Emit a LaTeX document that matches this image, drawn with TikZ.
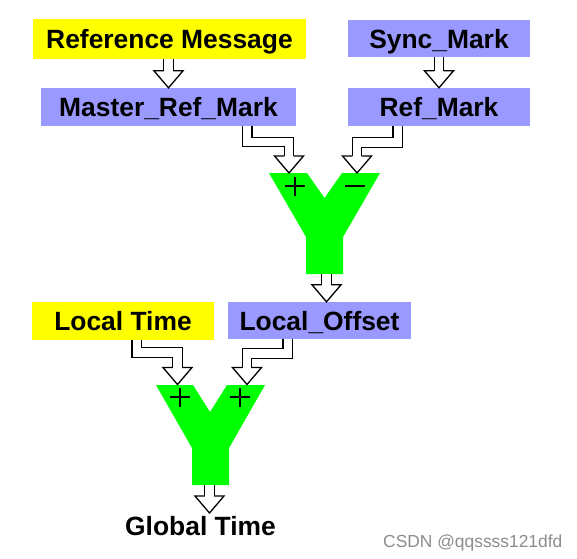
\documentclass[tikz,border=0pt]{standalone}
\usepackage{fontspec}
\setmainfont{Liberation Sans}
\usetikzlibrary{calc}
\definecolor{ylw}{HTML}{FFFF00}
\definecolor{lav}{HTML}{9999FF}
\definecolor{grn}{HTML}{00FF00}
\tikzset{
  box/.style={draw=none, inner sep=0pt, font=\fontsize{26.4}{30}\selectfont\bfseries,
    text height=23pt, text depth=4pt, minimum height=38pt},
  ybox/.style={box, fill=ylw},
  pbox/.style={box, fill=lav},
  lbl/.style={inner sep=0pt, font=\fontsize{26.4}{30}\selectfont\bfseries, text height=23pt, text depth=4pt},
  arrline/.style={line width=1.3pt, line join=miter},
  yshape/.style={fill=grn},
  sign/.style={line width=2.2pt},
}
\newcommand\harrow[2]{%
  \coordinate (hb) at ($(#2)+(0,-17)$);
  \fill[white] ($(hb)+(-14.5,0)$) -- (#2) -- ($(hb)+(14.5,0)$) -- cycle;
  \draw[arrline] ($(hb)+(-4.7,0)$) -- ($(hb)+(-14.5,0)$) -- (#2) -- ($(hb)+(14.5,0)$) -- ($(hb)+(4.7,0)$);
  \draw[line width=10.7pt, line join=miter] #1 -- (hb);
  \draw[line width=8.1pt, white, line join=miter] #1 -- (hb);
}
\begin{document}
\begin{tikzpicture}[x=1pt, y=-1pt]
\useasboundingbox (0,0) rectangle (577,558);

% boxes
\node[ybox, minimum width=273pt, minimum height=40pt] (refmsg) at (169.5,39) {Reference Message};
\node[pbox, minimum width=182pt, minimum height=37pt] (sync) at (439,38.5) {Sync\_Mark};
\node[pbox, minimum width=255pt] (mrm) at (168.5,107) {Master\_Ref\_Mark};
\node[pbox, minimum width=182pt] (refmark) at (439,107) {Ref\_Mark};
\node[ybox, minimum width=182pt] (lt) at (123,321) {Local Time};
\node[pbox, minimum width=183pt, minimum height=37pt] (lo) at (319.5,320.5) {Local\_Offset};
\node[lbl] (gt) at (200.5,526) {Global Time};

% Y shapes
\fill[yshape] (269,173) -- (307,173) -- (324.5,198) -- (342,173) -- (380,173)
  -- (343,237) -- (343,274) -- (306,274) -- (306,237) -- cycle;
\fill[yshape] (156,385) -- (193,385) -- (210,412) -- (227,385) -- (265,385)
  -- (229,448) -- (229,485) -- (192,485) -- (192,448) -- cycle;

% connector ends
\coordinate (t1) at (mrm.north);
\coordinate (t2) at (refmark.north);
\coordinate (y1l) at (289,173);
\coordinate (y1r) at (357,173);
\coordinate (y1out) at (326.5,274);
\coordinate (t3) at ([xshift=7pt]lo.north);
\coordinate (y2l) at (177.5,384.5);
\coordinate (y2r) at (247,384.5);
\coordinate (y2out) at (209.5,485);
\coordinate (t4) at (209.5,513);

% arrows
\harrow{(refmsg.south -| t1)}{t1}
\harrow{(sync.south -| t2)}{t2}
\harrow{([xshift=206.5pt]mrm.south west) |- ($(y1l)+(0,-31)$)}{y1l}
\harrow{([xshift=50pt]refmark.south west) |- ($(y1r)+(0,-30.5)$)}{y1r}
\harrow{(y1out)}{t3}
\harrow{([xshift=105pt]lt.south west) |- ($(y2l)+(0,-32)$)}{y2l}
\harrow{([xshift=60pt]lo.south west) |- ($(y2r)+(0,-31)$)}{y2r}
\harrow{(y2out)}{t4}

% signs
\draw[sign] (285,186) -- (305,186) (295,176.5) -- (295,195.5);
\draw[sign] (345,186) -- (365,186);
\draw[sign] (170,397) -- (190,397) (180,387.5) -- (180,406.5);
\draw[sign] (230,397) -- (250,397) (240,387.5) -- (240,406.5);

% watermark
\node[anchor=base west, inner sep=0pt, text=black!45, font=\fontsize{17.4}{20}\selectfont] (wm) at (383,547) {CSDN @qqssss121dfd};
\end{tikzpicture}
\end{document}
